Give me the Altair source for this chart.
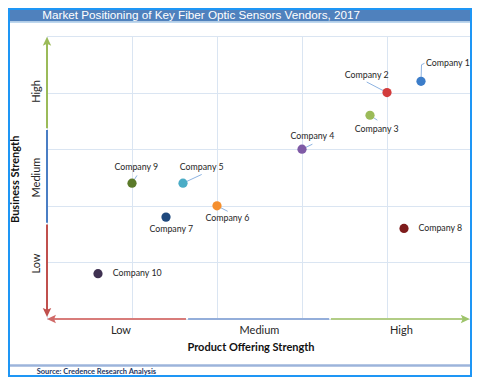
import altair as alt
import pandas as pd

# ---------------- data ----------------
companies = ["Company 1", "Company 2", "Company 3", "Company 4", "Company 5",
             "Company 6", "Company 7", "Company 8", "Company 9", "Company 10"]
product_strength = [4.4, 4.0, 3.8, 3.0, 1.6, 2.0, 1.4, 4.2, 1.0, 0.6]
business_strength = [4.2, 4.0, 3.6, 3.0, 2.4, 2.0, 1.8, 1.6, 2.4, 0.8]
point_colors = ["#3C7DC9", "#D23C3C", "#9BBB59", "#7F5BA6", "#4BACC6",
                "#F58F2E", "#1F497D", "#7E1C1C", "#5B7A2A", "#3F3151"]

x_levels = ["Low", "Medium", "High"]
x_level_pos = [0.87, 2.5, 4.17]
y_levels = ["Low", "Medium", "High"]
y_level_pos = [0.98, 2.5, 4.02]

chart_title = "Market Positioning of Key Fiber Optic Sensors Vendors, 2017"
x_title = "Product Offering Strength"
y_title = "Business Strength"
source_text = "Source: Credence Research Analysis"

# ---------------- layout (pixels) ----------------
W, H = 425, 283
PX_X, PX_Y = W / 5, H / 5
label_dx = [5.0, -20.3, 6.7, 10.4, 18.7, 10.4, 5.3, 14.4, 4.3, 14.7]
label_dy = [-18.2, -18.0, 13.3, -13.3, -16.0, 12.3, 12.0, 0.0, -16.0, -0.4]
label_align = ["left", "center", "center", "center", "center",
               "center", "center", "left", "center", "left"]
leader_paths = {
    0: [(0, 0), (0.5, -16.5), (3.5, -18)],
    1: [(0, 0), (-20.3, -10.6)],
    2: [(0, 0), (7.4, 5)],
    3: [(0, 0), (10.4, -5)],
    4: [(0, 0), (18.7, -8.7)],
    5: [(0, 0), (10.7, 5.5)],
    8: [(0, 0), (5, -7.7)],
}

GRID = "#DAE5F2"
FONT = "Lato"

pts = pd.DataFrame({"company": companies, "x": product_strength,
                    "y": business_strength, "color": point_colors})
pts["lx"] = [x + dx / PX_X for x, dx in zip(product_strength, label_dx)]
pts["ly"] = [y - dy / PX_Y for y, dy in zip(business_strength, label_dy)]
pts["align"] = label_align

rows = []
for i, path in leader_paths.items():
    for k, (dx, dy) in enumerate(path):
        rows.append({"company": companies[i], "o": k,
                     "x": product_strength[i] + dx / PX_X,
                     "y": business_strength[i] - dy / PX_Y})
leaders = pd.DataFrame(rows)

xs = alt.Scale(domain=[0, 5], nice=False, zero=False)
ys = alt.Scale(domain=[0, 5], nice=False, zero=False)
X_AX = alt.Axis(values=[0, 1, 2, 3, 4, 5], grid=True, gridColor=GRID, gridWidth=1,
                labels=False, ticks=False, domain=False, title=None)
Y_AX = alt.Axis(values=[0, 1, 2, 3, 4, 5], grid=True, gridColor=GRID, gridWidth=1,
                labels=False, ticks=False, domain=False, title=None)

def X(f):
    return alt.X(f, type="quantitative", scale=xs, axis=X_AX)

def Y(f):
    return alt.Y(f, type="quantitative", scale=ys, axis=Y_AX)

# axis arrows (segments, data coordinates)
segs = pd.DataFrame([
    {"x": 0, "y": 4.9, "x2": 0, "y2": 3.37, "c": "#9BBB59"},
    {"x": 0, "y": 3.34, "x2": 0, "y2": 1.70, "c": "#4A7EC4"},
    {"x": 0, "y": 1.67, "x2": 0, "y2": 0.12, "c": "#C0504D"},
    {"x": 0.06, "y": 0, "x2": 1.635, "y2": 0, "c": "#D87C7A"},
    {"x": 1.66, "y": 0, "x2": 3.32, "y2": 0, "c": "#94AEDA"},
    {"x": 3.34, "y": 0, "x2": 4.91, "y2": 0, "c": "#B2CD86"},
])
heads = pd.DataFrame([
    {"x": 0, "y": 4.895, "a": 0, "c": "#9BBB59"},
    {"x": 0, "y": 0.13, "a": 180, "c": "#C0504D"},
    {"x": 0.062, "y": 0, "a": 270, "c": "#D06A68"},
    {"x": 4.912, "y": 0, "a": 90, "c": "#9DC46A"},
])
ARROW = "M0,-1L0.8,0.7L0,0.35L-0.8,0.7Z"

one = pd.DataFrame({"k": [0]})

grid_layer = alt.Chart(pts).mark_point(opacity=0).encode(x=X("x"), y=Y("y"))

arrow_lines = alt.Chart(segs).mark_rule(strokeWidth=2).encode(
    x=X("x"), y=Y("y"), x2="x2:Q", y2="y2:Q",
    color=alt.Color("c:N", scale=None))

arrow_heads = alt.Chart(heads).mark_point(shape=ARROW, filled=True, size=112,
                                          opacity=1, strokeWidth=0).encode(
    x=X("x"), y=Y("y"), angle=alt.Angle("a:Q", scale=None),
    color=alt.Color("c:N", scale=None))

leader_layer = alt.Chart(leaders).mark_line(color="#8DB3E2", strokeWidth=1).encode(
    x=X("x"), y=Y("y"), detail="company:N", order="o:Q")

point_layer = alt.Chart(pts).mark_circle(size=85, opacity=1).encode(
    x=X("x"), y=Y("y"), color=alt.Color("color:N", scale=None))

lab_c = alt.Chart(pts).transform_filter(alt.datum.align == "center").mark_text(
    align="center", baseline="middle", font=FONT, fontSize=8.8, color="#262626").encode(
    x=X("lx"), y=Y("ly"), text="company:N")
lab_l = alt.Chart(pts).transform_filter(alt.datum.align == "left").mark_text(
    align="left", baseline="middle", font=FONT, fontSize=8.8, color="#262626").encode(
    x=X("lx"), y=Y("ly"), text="company:N")

xlab = alt.Chart(pd.DataFrame({"t": x_levels, "p": x_level_pos})).mark_text(
    align="center", baseline="middle", font=FONT, fontSize=11, color="#262626").encode(
    x=X("p"), y=alt.value(295), text="t:N")
ylab = alt.Chart(pd.DataFrame({"t": y_levels, "p": y_level_pos})).mark_text(
    align="center", baseline="middle", angle=270, font=FONT, fontSize=11,
    color="#262626").encode(x=alt.value(-9.7), y=Y("p"), text="t:N")

xt = alt.Chart(one).mark_text(align="center", baseline="middle", font=FONT,
                              fontSize=11, fontWeight="bold", color="#111111").encode(
    x=alt.value(204), y=alt.value(311.7), text=alt.value(x_title))
yt = alt.Chart(one).mark_text(align="center", baseline="middle", angle=270, font=FONT,
                              fontSize=11, fontWeight="bold", color="#111111").encode(
    x=alt.value(-31.5), y=alt.value(143.3), text=alt.value(y_title))

title_bar = alt.Chart(one).mark_rect(color="#4F81BD").encode(
    x=alt.value(-39), x2=alt.value(425), y=alt.value(-28), y2=alt.value(-14.5))
title_line = alt.Chart(one).mark_rule(color="#BDD7EE", strokeWidth=1.5).encode(
    x=alt.value(-39), x2=alt.value(425), y=alt.value(-13.8))
title_text = alt.Chart(one).mark_text(align="left", baseline="middle",
                                      font="Liberation Sans", fontSize=11.7,
                                      color="white").encode(
    x=alt.value(-4.7), y=alt.value(-21.2), text=alt.value(chart_title))

foot_rule = alt.Chart(one).mark_rule(color="#9CB4DB", strokeWidth=2.5).encode(
    x=alt.value(-39), x2=alt.value(425), y=alt.value(329.5))
foot_text = alt.Chart(one).mark_text(align="left", baseline="middle", font=FONT,
                                     fontSize=7.5, fontWeight="bold",
                                     color="#1F3864").encode(
    x=alt.value(-10.3), y=alt.value(336.3), text=alt.value(source_text))

frame = alt.Chart(one).mark_rect(fillOpacity=0, stroke="#1E96F5", strokeWidth=2).encode(
    x=alt.value(-38), x2=alt.value(424), y=alt.value(-27), y2=alt.value(340))

chart = alt.layer(
    grid_layer, title_bar, title_line, title_text, arrow_lines, arrow_heads,
    leader_layer, point_layer, lab_c, lab_l, xlab, ylab, xt, yt,
    foot_rule, foot_text, frame
).properties(
    width=W, height=H,
    padding={"left": 39, "top": 28, "right": 0, "bottom": 58},
    autosize=alt.AutoSizeParams(type="none"),
    background="white",
).configure_view(stroke=GRID)

chart.save("out.html", embed_options={"renderer": "svg", "actions": False})
